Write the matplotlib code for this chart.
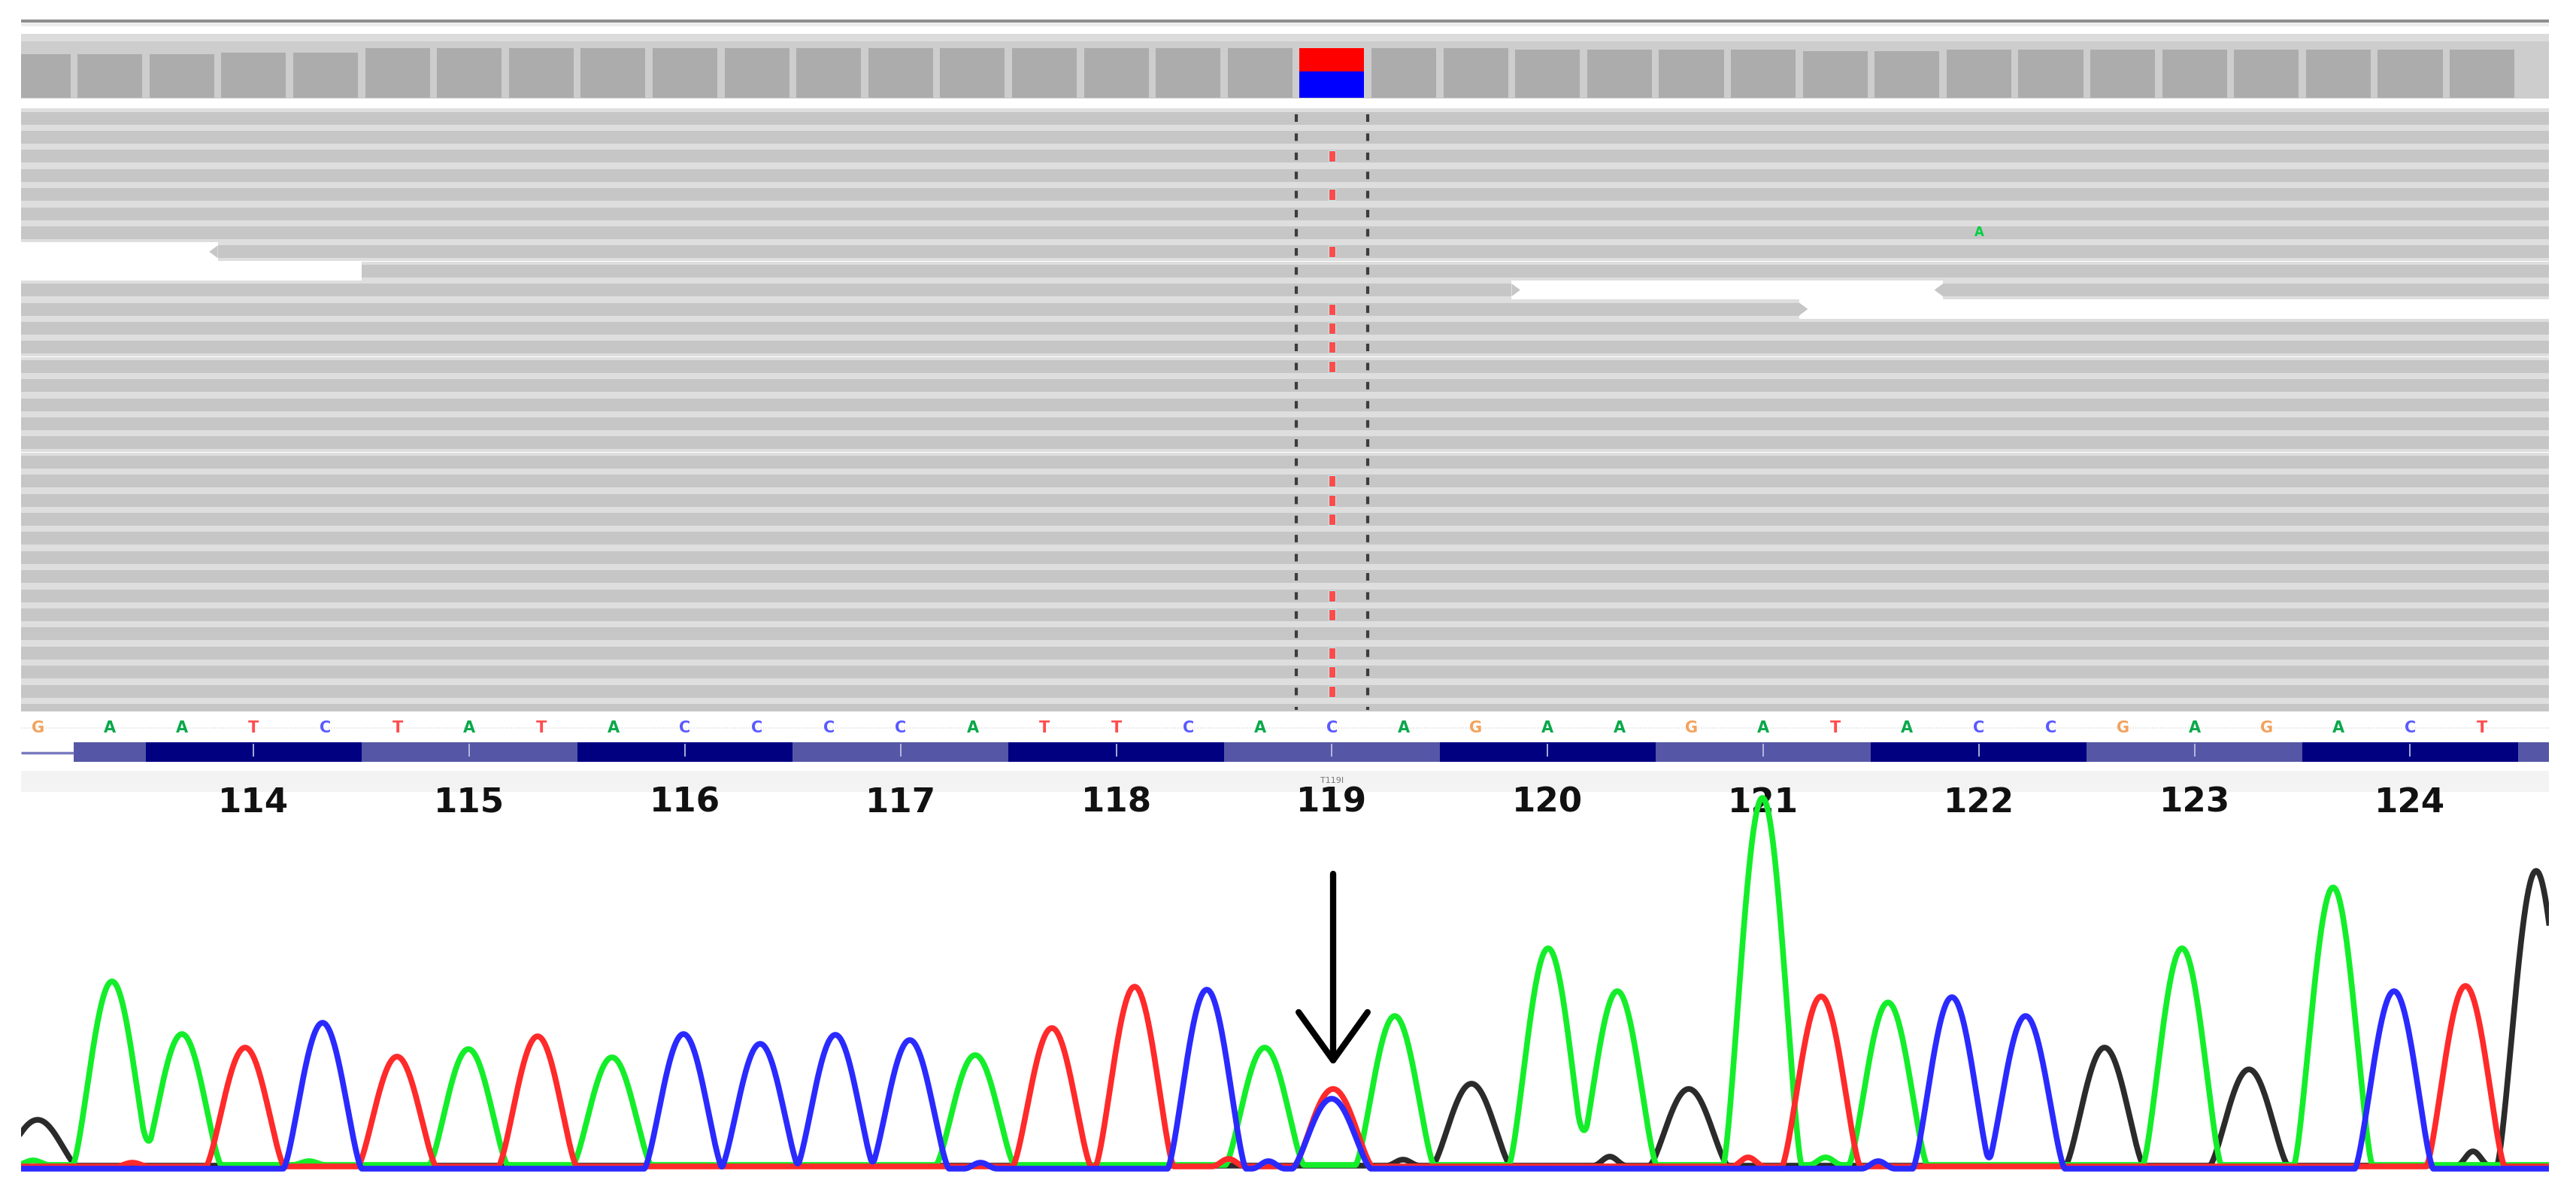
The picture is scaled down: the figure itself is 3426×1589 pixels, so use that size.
import numpy as np
import matplotlib.pyplot as plt
from matplotlib.patches import Rectangle, Polygon
from matplotlib.collections import PatchCollection

plt.rcParams['lines.scale_dashes'] = False
plt.rcParams['font.family'] = ['DejaVu Sans']

# ---------------- IGV data ----------------
ref_seq = list("GAATCTATACCCCATTCACAGAAGATACCGAGACT")     # bases 0..34
codon_numbers = list(range(113, 126))                      # 113 and 125 are partial
codon_114_start = 1.5                                      # base index where codon 114 begins
exon_start = 0.5
coverage = [28, 28, 28, 29, 29, 32, 32, 32, 32, 32, 32, 32, 32, 32, 32, 32, 32, 32,
            0, 32, 32, 31, 31, 31, 31, 30, 30, 31, 31, 31, 31, 31, 31, 31, 31]
variant_base = 18
variant_counts = {'T': 15, 'C': 17}
alt_rows = [2, 4, 7, 10, 11, 12, 13, 19, 20, 21, 25, 26, 28, 29, 30]
n_rows = 32
# reads: row, start, end, left tip, right tip
read_row = [r for r in range(n_rows) if r not in (7, 8, 9, 10)] + [7, 8, 9, 9, 10]
read_start = [-1.0] * 28 + [2.5, 4.5, -1.0, 26.5, -1.0]
read_end = [36.0] * 28 + [36.0, 36.0, 20.5, 36.0, 24.5]
read_ltip = [False] * 28 + [True, False, False, True, False]
read_rtip = [False] * 28 + [False, False, True, False, True]
other_mismatch = (6, 27, 'A')   # row, base, letter

base_colors = {'A': '#0aa84a', 'C': '#5a5aff', 'T': '#ff4d4d', 'G': '#f2a25c'}

# ---------------- chromatogram data ----------------
peak_base = list("GAATCTATACCCCATTCATAGAAGATACCGAGACTG")
peak_pos = [50, 149, 242, 326, 429, 528, 623, 715, 814, 909, 1011, 1111, 1210, 1297,
            1399, 1509, 1605, 1682, 1773, 1855, 1957, 2059, 2151, 2246, 2344, 2422,
            2511, 2596, 2694, 2799, 2902, 2991, 3103, 3184, 3279, 3373]
peak_h = [61, 244, 174, 158, 194, 146, 154, 173, 143, 179, 166, 178, 171, 146,
          184, 239, 238, 156, 103, 198, 109, 288, 231, 102, 488, 226,
          216, 228, 203, 157, 288, 128, 369, 236, 240, 392]
second_base = ['C']
second_pos = [1771]
second_h = [93]
bump_base = list("GGGAAATTTCCC")
bump_pos = [1866, 2141, 3289, 44, 411, 2428, 176, 1634, 2325, 1304, 1687, 2498]
bump_h = [8, 12, 19, 6, 5, 10, 5, 10, 12, 8, 10, 10]
trace_colors = {'G': '#2b2b2b', 'A': '#14ee2a', 'T': '#ff2a2a', 'C': '#2a2aff'}
trace_offset = {'G': 1, 'A': 2, 'T': 0, 'C': -3}

W, H = 3426, 1589
fig = plt.figure(figsize=(W / 100, H / 100), dpi=100)


def px_axes(x0, x1, y0, y1):
    return fig.add_axes([x0 / W, 1 - y1 / H, (x1 - x0) / W, (y1 - y0) / H])


# ================= IGV panel =================
x_lo, x_hi = -0.237, 34.93
ax = px_axes(28, 3390, 0, 1100)
ax.set_xlim(x_lo, x_hi)
ax.set_ylim(1100, 0)
ax.axis('off')
bases = np.arange(len(ref_seq))

ax.axhline(28, color='#8e8e8e', lw=3)
ax.axhspan(31, 35, color='#ececec', lw=0)
ax.axhspan(47, 131, color='#cdcdcd', lw=0)
ax.axhspan(45, 55, color='#dcdcdc', lw=0)

# coverage track
k = 2.06
cov_base = 130
cov = np.array(coverage, dtype=float)
mask = bases != variant_base
ax.bar(bases[mask], cov[mask] * k, bottom=cov_base - cov[mask] * k, width=0.9,
       color='#acacac', lw=0)
hc = variant_counts['C'] * k
ht = variant_counts['T'] * k
ax.bar(variant_base, hc, bottom=cov_base - hc, width=0.9, color='#0000ff', lw=0)
ax.bar(variant_base, ht, bottom=cov_base - hc - ht, width=0.9, color='#ff0000', lw=0)

# reads
row0, pitch = 157, 25.4
outer, inner, tips = [], [], []
for r, s, e, lt, rt in zip(read_row, read_start, read_end, read_ltip, read_rtip):
    yc = row0 + r * pitch
    outer.append(Rectangle((s, yc - pitch / 2), e - s, pitch))
    inner.append(Rectangle((s, yc - 8.5), e - s, 17))
    if lt:
        tips.append(Polygon([[s, yc - 8.5], [s - 0.12, yc], [s, yc + 8.5]]))
    if rt:
        tips.append(Polygon([[e, yc - 8.5], [e + 0.12, yc], [e, yc + 8.5]]))
clip = Rectangle((x_lo, 140), x_hi - x_lo, 806, transform=ax.transData)
for patches, col in ((outer, '#dedede'), (inner, '#c6c6c6'), (tips, '#c6c6c6')):
    pc = PatchCollection(patches, facecolor=col, edgecolor='none')
    ax.add_collection(pc)
    pc.set_clip_path(clip)

# variant column
ax.vlines([variant_base - 0.5, variant_base + 0.5], row0 - 5, 944,
          colors='#3c3c3c', lw=3, linestyles=[(0, (7.2, 11.1))])
alt_y = np.array([row0 + r * pitch for r in alt_rows])
ax.bar([variant_base] * len(alt_rows), 15, bottom=alt_y - 7.5, width=0.09,
       color='#ff4a4a', edgecolor='#bfe8e8', lw=0.8)
mr, mb, ml = other_mismatch
ax.text(mb, row0 + mr * pitch, ml, color='#00d040', fontsize=12, weight='bold',
        ha='center', va='center')

# sequence track
ax.axhline(968, color='#e2e2e2', lw=1.5, ls=':')
for i, b in enumerate(ref_seq):
    ax.text(i, 968, b, color=base_colors[b], fontsize=15, weight='bold',
            ha='center', va='center')

# gene track
ax.plot([x_lo, exon_start], [1001, 1001], color='#7a7ac0', lw=2.5, solid_capstyle='butt')
for c in codon_numbers:
    s = codon_114_start + 3 * (c - 114)
    e = s + 3
    s, e = max(s, exon_start), min(e, x_hi)
    col = '#000080' if c % 2 == 0 else '#5656a6'
    ax.add_patch(Rectangle((s, 987), e - s, 26, color=col, lw=0))
centers = [codon_114_start + 1.5 + 3 * (c - 114) for c in codon_numbers[1:-1]]
ax.vlines(centers, 989, 1006, colors='#c8c8ec', lw=1.2)

# ruler
ax.axhspan(1025, 1053, color='#f3f3f3', lw=0)
for c, x in zip(codon_numbers[1:-1], centers):
    ax.text(x, 1067, str(c), fontsize=32.5, weight='bold', ha='center', va='center',
            color='#111111')
ax.text(variant_base, 1038, 'T119I', fontsize=8, color='#777777', ha='center', va='center')

# ================= chromatogram =================
axc = px_axes(28, 3390, 1040, 1580)
axc.set_xlim(28, 3390)
axc.set_ylim(-29, 511)
axc.axis('off')

xs = np.arange(28, 3391, 1.0)


def bump(p, h, w, expo=1.4):
    d = np.clip(np.abs(xs - p) / w, 0, 1)
    return h * np.cos(d * np.pi / 2) ** expo


for b in ['G', 'A', 'T', 'C']:
    y = np.full_like(xs, trace_offset[b], dtype=float)
    for p, h, pb in zip(peak_pos, peak_h, peak_base):
        if pb == b:
            y += bump(p, h, 52)
    for p, h, pb in zip(second_pos, second_h, second_base):
        if pb == b:
            y += bump(p, h, 52)
    for p, h, pb in zip(bump_pos, bump_h, bump_base):
        if pb == b:
            y += bump(p, h, 22, 2)
    axc.plot(xs, y, color=trace_colors[b], lw=5.5, solid_joinstyle='round')

arrow_x = peak_pos[variant_base]
axc.annotate('', xy=(arrow_x, 134), xytext=(arrow_x, 389),
             arrowprops=dict(arrowstyle='->,head_length=4.6,head_width=3.3', lw=6,
                             color='black', shrinkA=0, shrinkB=0, mutation_scale=10))

fig.savefig('out.png', dpi=100, facecolor='white')
